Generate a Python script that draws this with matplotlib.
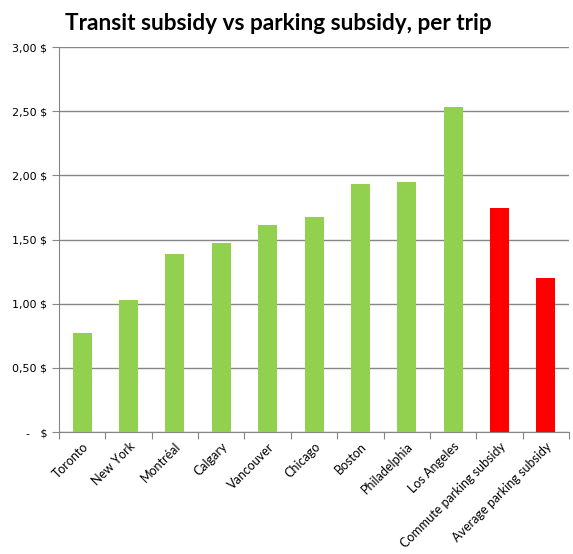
import matplotlib
matplotlib.use("Agg")
import matplotlib.pyplot as plt
import numpy as np

# values
categories = ["Toronto", "New York", "Montréal", "Calgary", "Vancouver", "Chicago",
              "Boston", "Philadelphia", "Los Angeles",
              "Commute parking subsidy", "Average parking subsidy"]
subsidy = [0.77, 1.03, 1.39, 1.47, 1.61, 1.68, 1.93, 1.95, 2.53, 1.75, 1.20]
bar_colors = ["#92D050"] * 9 + ["#FF0000"] * 2
y_ticks = [0, 0.5, 1.0, 1.5, 2.0, 2.5, 3.0]
y_labels = ["-   $", "0,50 $", "1,00 $", "1,50 $", "2,00 $", "2,50 $", "3,00 $"]

plt.rcParams["font.family"] = ["Lato", "DejaVu Sans"]

fig = plt.figure(figsize=(5.73, 5.54), dpi=100)
ax = fig.add_axes([0.103, 0.220, 0.890, 0.695])

x = np.arange(len(categories))
ax.bar(x, subsidy, width=0.41, color=bar_colors, zorder=3)

ax.set_xlim(-0.5, len(categories) - 0.5)
ax.set_ylim(0, 3.0)
ax.set_yticks(y_ticks)
ax.set_yticklabels(y_labels, fontsize=8, family="DejaVu Sans")
ax.yaxis.grid(True, color="#868686", linewidth=1, zorder=0)

# category boundary ticks, labels centred under bars
ax.set_xticks(np.arange(-0.5, len(categories)), minor=False)
ax.set_xticklabels([])
ax.set_xticks(x, minor=True)
ax.set_xticklabels(categories, minor=True, rotation=45, ha="right",
                   rotation_mode="anchor", fontsize=9)
ax.tick_params(axis="x", which="minor", length=0, pad=6)
ax.tick_params(axis="x", which="major", length=5, color="#868686")
ax.tick_params(axis="y", length=5, color="#868686")

for side in ["top", "right"]:
    ax.spines[side].set_visible(False)
for side in ["left", "bottom"]:
    ax.spines[side].set_color("#868686")

fig.text(0.113, 0.958, "Transit subsidy vs parking subsidy, per trip",
         fontsize=16.3, fontweight="bold", va="center", ha="left")

fig.savefig("out.png", dpi=100)
